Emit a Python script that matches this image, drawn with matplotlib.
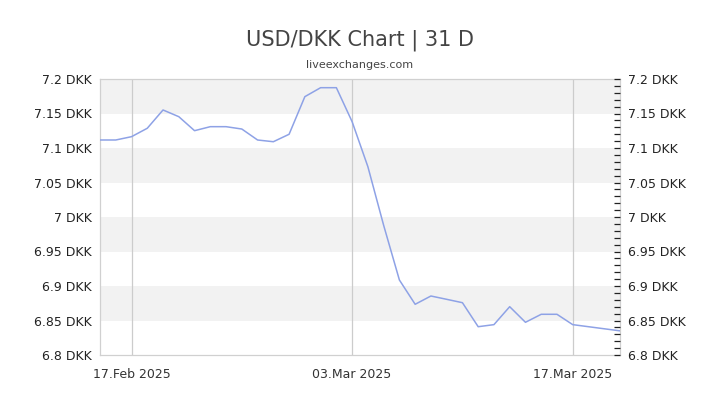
import numpy as np
import pandas as pd
import matplotlib
matplotlib.use('Agg')
import matplotlib.pyplot as plt
import matplotlib.dates as mdates
from matplotlib.ticker import MultipleLocator, FuncFormatter

# Daily USD/DKK rates
dates = pd.date_range('2025-02-15', '2025-03-20', freq='D')
rates = [7.1116, 7.1116, 7.1164, 7.1286, 7.1551, 7.1454, 7.1251, 7.1309,
         7.1309, 7.1275, 7.1116, 7.1091, 7.1199, 7.1744, 7.1874, 7.1874,
         7.1381, 7.0729, 6.988, 6.9087, 6.8735, 6.8855, 6.8807, 6.8758,
         6.8410, 6.8440, 6.8700, 6.8474, 6.8590, 6.8590, 6.8440, 6.8410,
         6.8380, 6.8350]
tick_dates = pd.to_datetime(['2025-02-17', '2025-03-03', '2025-03-17'])
band_starts = [6.85, 6.95, 7.05, 7.15]

fig = plt.figure(figsize=(7.2, 4.05), dpi=100)
ax = fig.add_axes([100 / 720, 50 / 405, 520 / 720, 276 / 405])

x0 = mdates.date2num(dates[0])
x1 = mdates.date2num(dates[-1])
ax.set_xlim(x0, x1)
ax.set_ylim(6.8, 7.2)

# alternating background bands
for b in band_starts:
    ax.axhspan(b, b + 0.05, color='#f2f2f2', lw=0, zorder=0)

for t in tick_dates:
    ax.axvline(t, color='#cccccc', lw=0.9, zorder=1)

ax.plot(dates, rates, color='#8ea2e6', lw=1.1, zorder=3)

fmt = FuncFormatter(lambda v, p: f'{v:g} DKK')
ax.yaxis.set_major_locator(MultipleLocator(0.05))
ax.yaxis.set_major_formatter(fmt)
ax.tick_params(axis='y', which='both', left=False, length=0, labelsize=9,
               labelcolor='#222222', pad=6)

ax.set_xticks(tick_dates)
ax.xaxis.set_major_formatter(mdates.DateFormatter('%d.%b %Y'))
ax.tick_params(axis='x', length=0, labelsize=9, labelcolor='#333333', pad=9)

for s in ax.spines.values():
    s.set_color('#d0d0d0')
    s.set_linewidth(0.9)

# right axis with minor ticks
ax2 = ax.twinx()
ax2.set_ylim(6.8, 7.2)
ax2.yaxis.set_major_locator(MultipleLocator(0.05))
ax2.yaxis.set_minor_locator(MultipleLocator(0.01))
ax2.yaxis.set_major_formatter(fmt)
ax2.tick_params(axis='y', which='both', direction='in', length=4, width=0.9,
                color='#222222', labelsize=9, labelcolor='#222222', pad=6)
for s in ax2.spines.values():
    s.set_visible(False)

fig.text(0.5, 1 - 40 / 405, 'USD/DKK Chart | 31 D', ha='center', va='center',
         fontsize=15, color='#444444')
fig.text(0.5, 1 - 65 / 405, 'liveexchanges.com', ha='center', va='center',
         fontsize=8, color='#444444')

fig.savefig('out.png', dpi=100)
